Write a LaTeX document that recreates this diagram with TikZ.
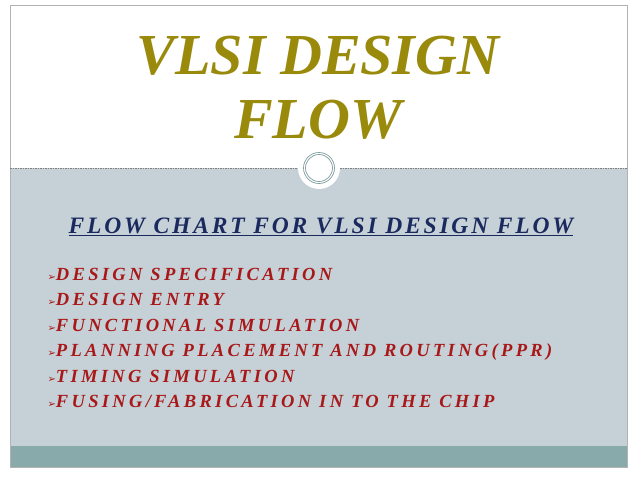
\documentclass[tikz,border=0pt]{standalone}
\usepackage{fontspec}
\setmainfont{Liberation Serif}
\newfontfamily\dejavu{DejaVu Sans}
\definecolor{olivet}{HTML}{9A8A0C}
\definecolor{navyt}{HTML}{1B2A5E}
\definecolor{redt}{HTML}{A81818}
\definecolor{grayb}{HTML}{C5D0D7}
\definecolor{tealb}{HTML}{89AAAB}
\definecolor{ringc}{HTML}{7F9C9E}
\tikzset{
  item/.style={anchor=base west,text=redt,font=\fontsize{18.5}{22}\selectfont\bfseries\itshape\addfontfeatures{LetterSpace=18}},
}
\newcommand{\bul}{{\dejavu\fontsize{10}{10}\selectfont\char"27A2}}
\begin{document}
\begin{tikzpicture}[x=1pt,y=-1pt]
\useasboundingbox (0,0) rectangle (638,479);
\fill[white] (0,0) rectangle (638,479);
\fill[grayb] (10,168) rectangle (627,446);
\fill[tealb] (10,446) rectangle (627,467);
\draw[gray!60,line width=0.6pt] (10,5) rectangle (627,467);
\draw[gray,dashed,line width=0.5pt,dash pattern=on 1.5pt off 1pt] (10,168) -- (627,168);
\fill[white] (319,168) circle (21);
\draw[ringc,line width=0.7pt] (319,168) circle (15.5);
\draw[ringc,line width=0.7pt] (319,168) circle (13.5);
\node[text=olivet,font=\fontsize{58}{64}\selectfont\bfseries\itshape,align=center] (t) at (318,88) {VLSI DESIGN\\FLOW};
\node[text=navyt,font=\fontsize{23.5}{26}\selectfont\bfseries\itshape\addfontfeatures{LetterSpace=12}] (s) at (321,227) {\underline{FLOW CHART FOR VLSI DESIGN FLOW}};
\node[item] (i1) at (44,280) {\bul DESIGN SPECIFICATION};
\node[item] (i2) at (44,305) {\bul DESIGN ENTRY};
\node[item] (i3) at (44,331) {\bul FUNCTIONAL SIMULATION};
\node[item] (i4) at (44,356) {\bul PLANNING PLACEMENT AND ROUTING(PPR)};
\node[item] (i5) at (44,382) {\bul TIMING SIMULATION};
\node[item] (i6) at (44,407) {\bul FUSING/FABRICATION IN TO THE CHIP};
\end{tikzpicture}
\end{document}
